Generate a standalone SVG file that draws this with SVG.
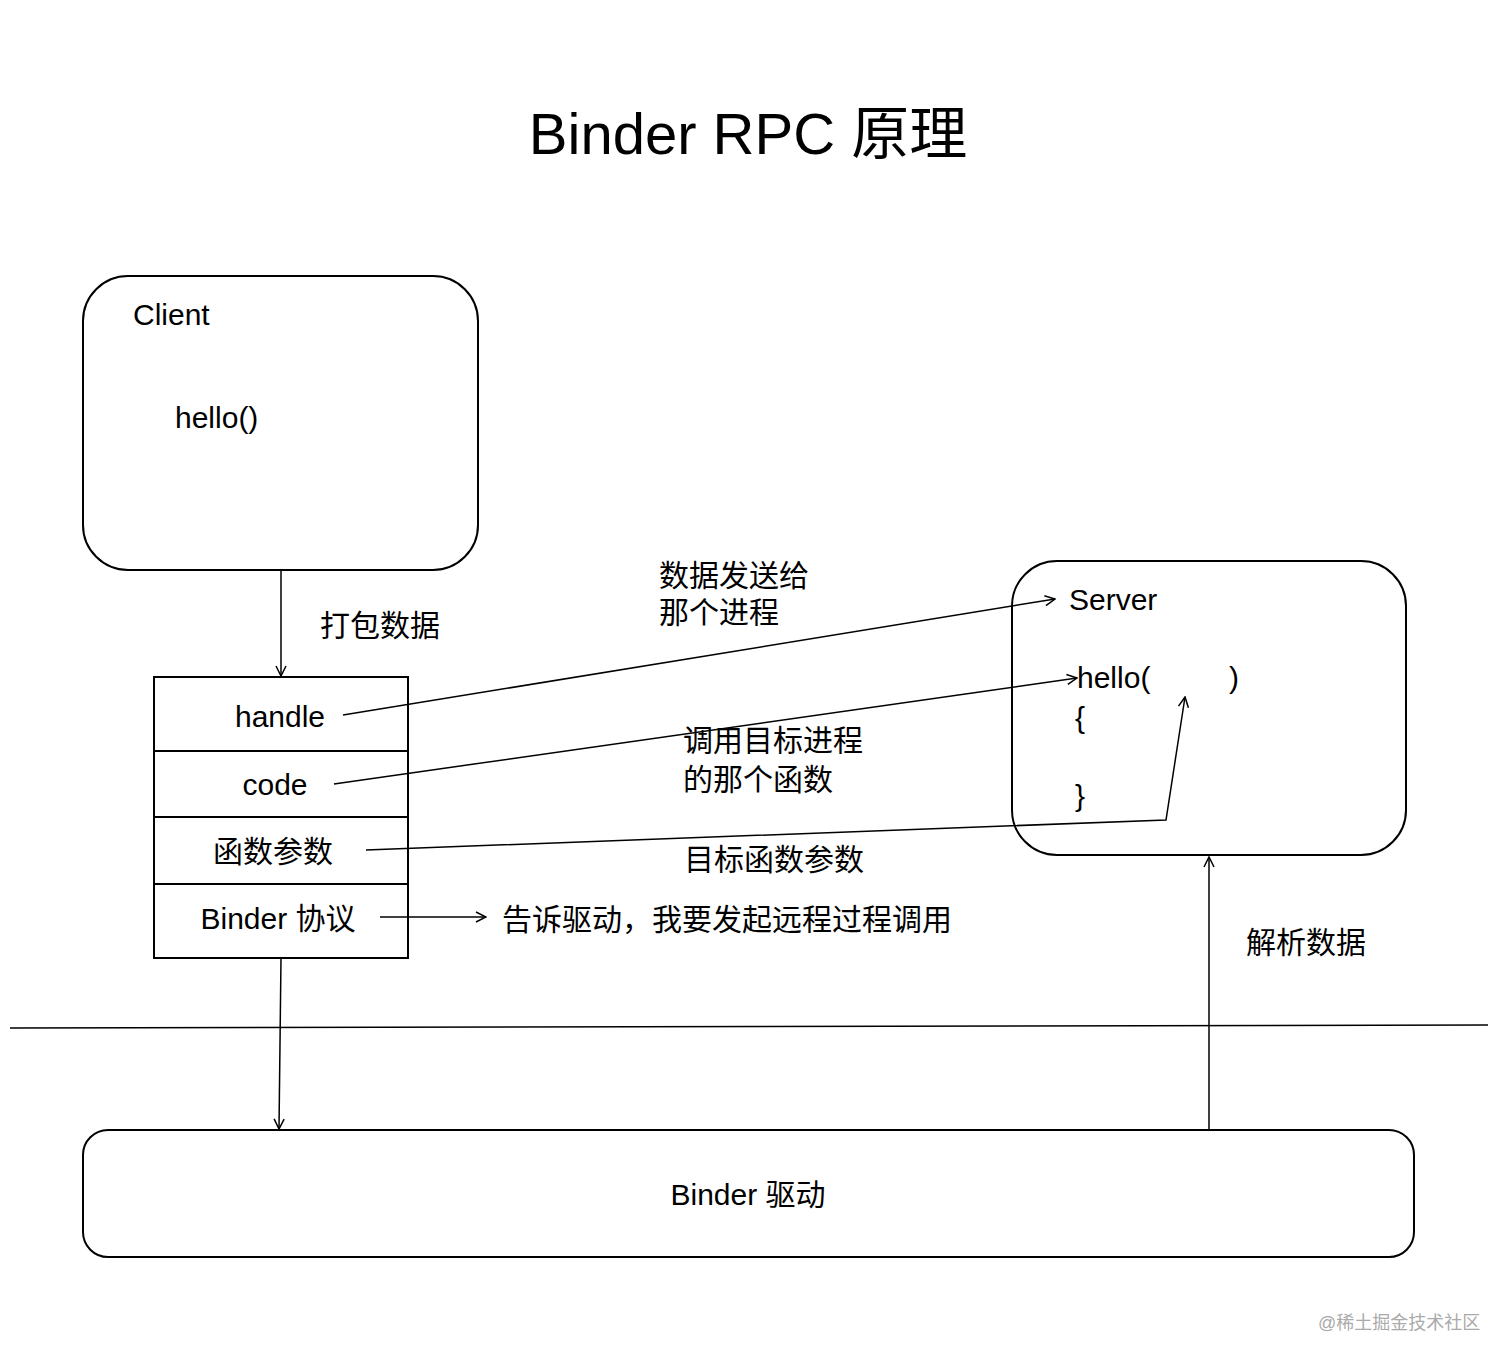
<svg xmlns="http://www.w3.org/2000/svg" width="1512" height="1365" viewBox="0 0 1512 1365">
<style>
text{font-family:"Liberation Sans","Noto Sans CJK SC",sans-serif;fill:#000}
.b{fill:none;stroke:#000;stroke-width:2}
.l{fill:none;stroke:#000;stroke-width:1.5}
.t{font-size:30px}
</style>
<defs><marker id="a" viewBox="0 0 12 12" refX="11" refY="6" markerWidth="12" markerHeight="12" markerUnits="userSpaceOnUse" orient="auto"><path d="M1 1L11 6L1 11" fill="none" stroke="#000" stroke-width="1.5"/></marker></defs>
<rect width="1512" height="1365" fill="#fff"/>
<text x="748" y="154" font-size="58" text-anchor="middle">Binder RPC 原理</text>
<g id="client"><rect class="b" x="83" y="276" width="395" height="294" rx="45"/><text class="t" x="133" y="325">Client</text><text class="t" x="175" y="428">hello()</text></g>
<g id="table"><rect class="b" x="154" y="677" width="254" height="281"/><path class="b" d="M154 751H408M154 817H408M154 884H408"/>
<text class="t" x="280" y="727" text-anchor="middle">handle</text><text class="t" x="275" y="795" text-anchor="middle">code</text><text class="t" x="273" y="862" text-anchor="middle">函数参数</text><text class="t" x="278" y="929" text-anchor="middle">Binder 协议</text></g>
<g id="server"><rect class="b" x="1012" y="561" width="394" height="294" rx="45"/><text class="t" x="1069" y="610">Server</text><text class="t" x="1077" y="688">hello(</text><text class="t" x="1229" y="688">)</text><text class="t" x="1075" y="728">{</text><text class="t" x="1075" y="806">}</text></g>
<g id="driver"><rect class="b" x="83" y="1130" width="1331" height="127" rx="25"/><text class="t" x="748" y="1205" text-anchor="middle">Binder 驱动</text></g>
<g id="labels" class="t">
<text class="t" x="320" y="636">打包数据</text>
<text class="t" x="659" y="586">数据发送给</text><text class="t" x="659" y="623">那个进程</text>
<text class="t" x="683" y="751">调用目标进程</text><text class="t" x="683" y="790">的那个函数</text>
<text class="t" x="684" y="870">目标函数参数</text>
<text class="t" x="502" y="930">告诉驱动，我要发起远程过程调用</text>
<text class="t" x="1246" y="953">解析数据</text>
</g>
<g id="connectors">
<path class="l" d="M281 570V676" marker-end="url(#a)"/>
<path class="l" d="M343 715L1055 599" marker-end="url(#a)"/>
<path class="l" d="M334 784L1077 678" marker-end="url(#a)"/>
<path class="l" d="M366 850L1166 820L1185 697" marker-end="url(#a)"/>
<path class="l" d="M380 917H486" marker-end="url(#a)"/>
<path class="l" d="M10 1028L1488 1025"/>
<path class="l" d="M281 958L279 1129" marker-end="url(#a)"/>
<path class="l" d="M1209 1130V857" marker-end="url(#a)"/>
</g>
<text x="1318" y="1329" font-size="18" style="fill:#aaa">@稀土掘金技术社区</text>
</svg>
